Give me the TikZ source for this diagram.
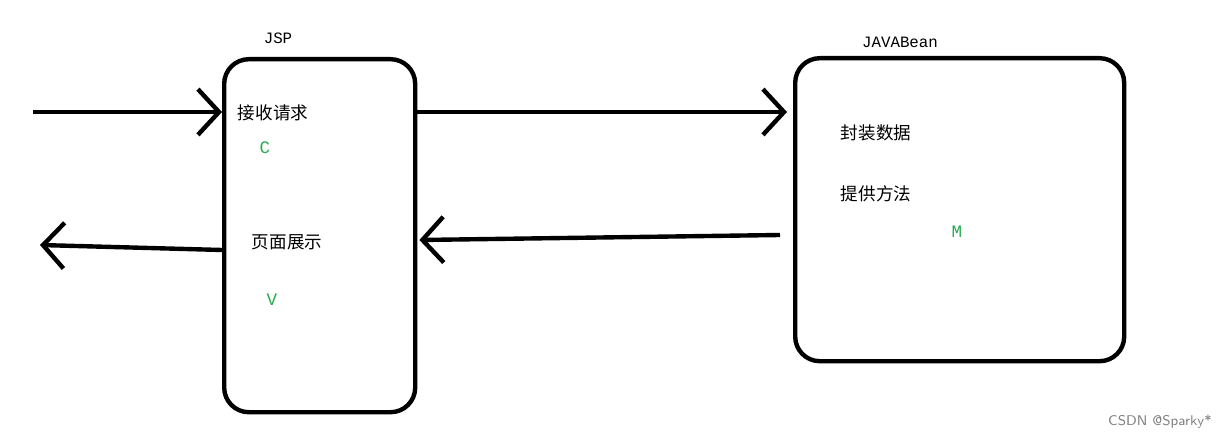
\documentclass[tikz,border=0pt]{standalone}
\usepackage{fontspec}
\setmainfont{Liberation Mono}
\newfontfamily\cjk{Noto Sans CJK SC}
\usetikzlibrary{arrows.meta}
\definecolor{lg}{RGB}{40,170,80}
\tikzset{
  box/.style={draw,line width=2.5pt,rounded corners=14pt},
  conn/.style={line width=2.5pt,-{Straight Barb[length=12pt,width=26pt,line width=2.5pt]}},
  zh/.style={font=\cjk\fontsize{10}{12}\selectfont},
  lt/.style={text=lg,font=\fontsize{10}{12}\selectfont},
  ttl/.style={font=\fontsize{9}{11}\selectfont}
}
\begin{document}
\begin{tikzpicture}[x=0.02cm,y=-0.02cm]
\useasboundingbox (0,0) rectangle (1217,439);
\node[box,minimum width=191*0.02cm,minimum height=353*0.02cm,anchor=north west] (jsp) at (222,57) {};
\node[box,minimum width=329*0.02cm,minimum height=303*0.02cm,anchor=north west] (bean) at (793,56) {};
\node[ttl] (tj) at (278,38) {JSP};
\node[ttl] (tb) at (900,42) {JAVABean};
\node[zh] (t1) at (273,113) {接收请求};
\node[lt] (c) at (265,148) {C};
\node[zh] (t2) at (287,242) {页面展示};
\node[lt] (v) at (272,300) {V};
\node[zh] (t3) at (876,133) {封装数据};
\node[zh] (t4) at (876,194) {提供方法};
\node[lt] (m) at (957,232) {M};
\node[font=\sffamily\fontsize{8}{10}\selectfont,text=gray] (w) at (1160,422) {CSDN @Sparky*};
\coordinate (in) at (33,112);
\coordinate (out) at (40,245);
\draw[conn] (in) -- (jsp.west |- in);
\draw[conn] (jsp.east |- in) -- ([xshift=-6*0.02cm]bean.west |- in);
\draw[conn] ([xshift=-13*0.02cm]bean.west |- 0,235) -- ([xshift=2*0.02cm]jsp.east |- 0,240);
\draw[conn] (jsp.west |- 0,250) -- (out);
\end{tikzpicture}
\end{document}
